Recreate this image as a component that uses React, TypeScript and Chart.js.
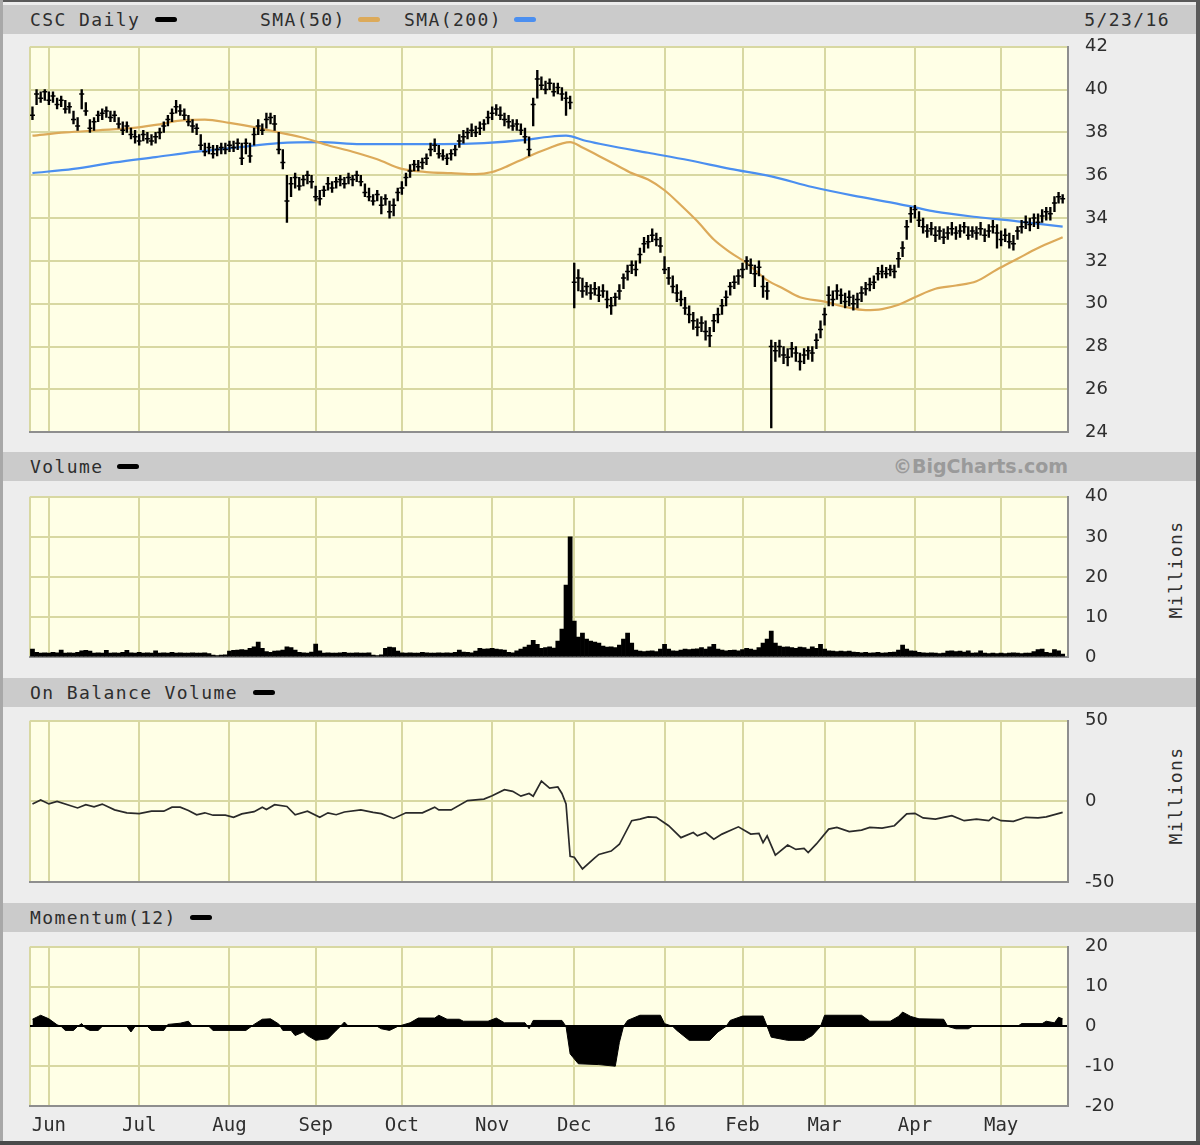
import React, { useEffect, useRef } from 'react';
import { Chart, registerables } from 'chart.js';

Chart.register(...registerables);

// ---------- tick labels / categories ----------
const monthLabels = ['Jun', 'Jul', 'Aug', 'Sep', 'Oct', 'Nov', 'Dec', '16', 'Feb', 'Mar', 'Apr', 'May'];
const monthStartIdx = [4, 26, 48, 69, 90, 112, 132, 154, 173, 193, 215, 236];

// ---------- daily price bars (trading day index 0 = 5/26/15 ... 251 = 5/23/16) ----------
const closes = [
  38.8, 39.8, 39.6, 39.9, 39.5, 39.7, 39.3, 39.5, 39.1, 39.2,
  38.6, 38.3, 39.8, 39.0, 38.2, 38.5, 38.8, 38.9, 39.0, 38.7,
  38.8, 38.4, 38.1, 38.3, 37.9, 37.8, 37.6, 37.9, 37.7, 37.6,
  37.8, 38.0, 38.3, 38.6, 38.9, 39.2, 39.0, 38.8, 38.5, 38.3,
  38.2, 37.4, 37.1, 37.3, 37.0, 37.2, 37.3, 37.2, 37.4, 37.3,
  37.5, 36.8, 37.5, 36.9, 37.9, 38.3, 38.1, 38.6, 38.7, 38.4,
  37.2, 36.6, 34.8, 35.6, 35.9, 35.5, 35.8, 36.0, 35.7, 35.0,
  34.9, 35.3, 35.6, 35.4, 35.7, 35.8, 35.6, 35.9, 35.8, 36.0,
  35.7, 35.2, 35.0, 34.8, 35.1, 34.6, 34.9, 34.3, 34.6, 35.2,
  35.4, 35.9, 36.2, 36.5, 36.4, 36.6, 36.8, 37.2, 37.4, 37.0,
  36.9, 36.8, 37.0, 37.2, 37.6, 37.8, 38.0, 38.1, 38.0, 38.2,
  38.4, 38.7, 38.9, 39.1, 38.8, 38.6, 38.5, 38.3, 38.4, 38.1,
  37.8, 37.2, 39.3, 40.5, 40.2, 40.0, 40.3, 39.9, 40.1, 39.8,
  39.6, 39.4, 31.0, 31.2, 30.6, 30.8, 30.5, 30.7, 30.4, 30.6,
  30.2, 29.9, 30.3, 30.6, 31.2, 31.5, 31.8, 31.6, 32.3, 32.8,
  32.9, 33.2, 33.0, 32.7, 31.6, 31.2, 30.8, 30.5, 30.2, 29.8,
  29.5, 29.2, 28.9, 29.1, 28.7, 28.5, 29.2, 29.5, 29.9, 30.3,
  30.8, 31.0, 31.3, 31.6, 32.0, 31.8, 31.4, 31.7, 30.8, 30.6,
  28.0, 27.8, 28.0, 27.6, 27.5, 27.9, 27.7, 27.3, 27.6, 27.8,
  27.7, 28.3, 28.8, 29.5, 30.4, 30.2, 30.6, 30.4, 30.1, 30.3,
  30.0, 30.2, 30.5, 30.7, 30.9, 31.0, 31.4, 31.5, 31.4, 31.6,
  31.5, 32.1, 32.6, 33.6, 34.2, 34.4, 33.9, 33.6, 33.4, 33.5,
  33.2, 33.4, 33.1, 33.3, 33.5, 33.3, 33.4, 33.6, 33.2, 33.4,
  33.3, 33.5, 33.2, 33.4, 33.6, 33.3, 33.0, 33.2, 32.9, 32.8,
  33.4, 33.6, 33.8, 33.7, 34.0, 33.8, 34.1, 34.3, 34.2, 34.7,
  35.0, 34.9,
];
const highs = [
  39.2, 40.0, 39.9, 40.0, 39.9, 39.9, 39.6, 39.7, 39.5, 39.4,
  39.0, 38.7, 40.0, 39.4, 38.6, 38.7, 39.0, 39.1, 39.2, 39.0,
  39.0, 38.7, 38.5, 38.5, 38.2, 38.1, 37.9, 38.1, 38.0, 37.9,
  38.0, 38.2, 38.5, 38.8, 39.1, 39.5, 39.3, 39.1, 38.8, 38.6,
  38.4, 37.9, 37.5, 37.5, 37.4, 37.4, 37.5, 37.5, 37.6, 37.6,
  37.7, 37.5, 37.7, 37.5, 38.2, 38.6, 38.4, 38.9, 38.9, 38.8,
  38.0, 37.2, 36.0, 35.9, 36.1, 35.9, 36.0, 36.2, 36.0, 35.5,
  35.3, 35.5, 35.9, 35.7, 35.9, 36.0, 35.9, 36.1, 36.0, 36.2,
  36.0, 35.6, 35.4, 35.1, 35.3, 35.0, 35.1, 34.8, 34.9, 35.4,
  35.7, 36.1, 36.5, 36.7, 36.7, 36.8, 37.0, 37.5, 37.7, 37.4,
  37.2, 37.0, 37.2, 37.4, 37.9, 38.1, 38.2, 38.4, 38.3, 38.5,
  38.6, 39.0, 39.2, 39.3, 39.2, 38.9, 38.8, 38.6, 38.6, 38.4,
  38.2, 37.8, 39.6, 40.9, 40.6, 40.4, 40.5, 40.3, 40.3, 40.1,
  39.9, 39.7, 31.9, 31.6, 31.2, 31.0, 30.9, 31.0, 30.8, 30.9,
  30.6, 30.3, 30.5, 30.9, 31.4, 31.8, 32.0, 32.0, 32.6, 33.1,
  33.2, 33.5, 33.3, 33.1, 32.2, 31.7, 31.3, 30.9, 30.6, 30.3,
  29.9, 29.6, 29.3, 29.4, 29.2, 28.9, 29.5, 29.8, 30.2, 30.6,
  31.0, 31.3, 31.6, 31.9, 32.2, 32.1, 31.8, 32.0, 31.3, 31.0,
  28.3, 28.2, 28.3, 28.0, 27.9, 28.2, 28.0, 27.7, 27.9, 28.0,
  28.0, 28.6, 29.2, 29.8, 30.8, 30.6, 30.9, 30.7, 30.5, 30.6,
  30.4, 30.5, 30.8, 31.0, 31.2, 31.3, 31.7, 31.8, 31.7, 31.8,
  31.8, 32.4, 32.9, 33.9, 34.5, 34.6, 34.3, 34.0, 33.7, 33.8,
  33.6, 33.6, 33.5, 33.6, 33.8, 33.6, 33.7, 33.8, 33.6, 33.6,
  33.6, 33.8, 33.5, 33.7, 33.9, 33.7, 33.4, 33.5, 33.3, 33.2,
  33.6, 33.9, 34.1, 34.0, 34.2, 34.2, 34.4, 34.5, 34.5, 35.0,
  35.2, 35.1,
];
const lows = [
  38.6, 39.3, 39.4, 39.5, 39.3, 39.4, 39.1, 39.2, 38.9, 38.9,
  38.4, 38.1, 39.1, 38.8, 38.0, 38.1, 38.5, 38.6, 38.7, 38.5,
  38.5, 38.2, 37.9, 38.0, 37.7, 37.5, 37.4, 37.6, 37.5, 37.4,
  37.5, 37.7, 38.0, 38.3, 38.5, 38.9, 38.8, 38.6, 38.3, 38.0,
  37.9, 37.2, 36.9, 37.0, 36.8, 36.9, 37.0, 37.0, 37.1, 37.1,
  37.2, 36.5, 37.0, 36.6, 37.4, 37.9, 37.9, 38.2, 38.4, 38.1,
  37.0, 36.3, 33.8, 35.0, 35.4, 35.3, 35.5, 35.6, 35.4, 34.8,
  34.6, 35.0, 35.3, 35.2, 35.4, 35.5, 35.4, 35.6, 35.5, 35.7,
  35.5, 35.0, 34.8, 34.6, 34.8, 34.2, 34.6, 34.0, 34.1, 34.8,
  35.1, 35.5, 35.9, 36.2, 36.2, 36.3, 36.5, 36.9, 37.1, 36.8,
  36.7, 36.5, 36.7, 36.9, 37.3, 37.5, 37.7, 37.8, 37.8, 37.9,
  38.1, 38.4, 38.6, 38.8, 38.6, 38.3, 38.2, 38.1, 38.1, 37.9,
  37.5, 36.9, 38.3, 39.6, 40.0, 39.8, 40.0, 39.7, 39.8, 39.5,
  38.8, 39.1, 29.8, 30.6, 30.3, 30.4, 30.2, 30.4, 30.1, 30.3,
  29.8, 29.5, 29.9, 30.2, 30.7, 31.1, 31.4, 31.3, 31.9, 32.4,
  32.6, 32.9, 32.7, 32.4, 31.4, 30.9, 30.5, 30.1, 29.9, 29.5,
  29.1, 28.8, 28.5, 28.7, 28.3, 28.0, 28.7, 29.1, 29.5, 29.9,
  30.4, 30.7, 30.9, 31.2, 31.6, 31.4, 30.8, 31.3, 30.3, 30.2,
  24.2, 27.3, 27.5, 27.2, 27.1, 27.5, 27.3, 26.9, 27.2, 27.4,
  27.3, 27.9, 28.4, 29.0, 29.9, 29.9, 30.2, 30.0, 29.8, 29.9,
  29.7, 29.8, 30.1, 30.4, 30.6, 30.7, 31.1, 31.2, 31.2, 31.3,
  31.2, 31.7, 32.2, 33.0, 33.8, 34.0, 33.6, 33.3, 33.1, 33.2,
  32.9, 33.0, 32.8, 33.0, 33.2, 33.0, 33.1, 33.3, 33.0, 33.1,
  33.0, 33.2, 32.9, 33.1, 33.3, 32.6, 32.7, 32.9, 32.6, 32.5,
  33.0, 33.3, 33.5, 33.4, 33.6, 33.5, 33.8, 33.9, 33.9, 34.3,
  34.7, 34.7,
];

// ---------- moving averages (sampled trading days) ----------
const sma50Days = [0, 8, 16, 24, 30, 36, 42, 48, 54, 60, 66, 72, 78, 84, 90, 96, 102, 108, 112, 116, 120, 125, 131, 134, 138, 142, 146, 150, 154, 158, 162, 166, 170, 174, 179, 183, 187, 193, 198, 203, 207, 211, 215, 220, 225, 230, 235, 240, 245, 251];
const sma50 = [37.85, 38.0, 38.1, 38.2, 38.35, 38.55, 38.6, 38.45, 38.25, 38.0, 37.75, 37.4, 37.1, 36.75, 36.3, 36.15, 36.1, 36.05, 36.15, 36.45, 36.8, 37.2, 37.55, 37.3, 36.9, 36.5, 36.1, 35.8, 35.3, 34.6, 33.85, 33.0, 32.4, 31.9, 31.1, 30.7, 30.3, 30.1, 29.85, 29.7, 29.75, 29.95, 30.3, 30.7, 30.85, 31.05, 31.6, 32.1, 32.6, 33.1];
const sma200Days = [0, 10, 20, 30, 40, 50, 60, 70, 80, 90, 100, 110, 120, 126, 130, 135, 140, 150, 160, 170, 180, 190, 200, 210, 215, 220, 230, 240, 251];
const sma200 = [36.1, 36.3, 36.6, 36.85, 37.1, 37.3, 37.5, 37.55, 37.45, 37.45, 37.45, 37.5, 37.65, 37.8, 37.85, 37.6, 37.4, 37.05, 36.7, 36.3, 35.95, 35.45, 35.05, 34.7, 34.5, 34.3, 34.05, 33.85, 33.6];

// ---------- volume (millions, daily) ----------
const volumes = [
  2.0, 1.2, 1.0, 1.1, 1.0, 1.2, 1.1, 1.8, 1.0, 1.1,
  1.0, 1.2, 1.6, 1.7, 1.5, 1.0, 1.1, 1.0, 1.7, 1.0,
  1.1, 1.0, 1.2, 1.7, 1.1, 1.0, 1.2, 1.0, 1.1, 1.0,
  1.6, 1.0, 1.1, 1.0, 1.2, 1.0, 1.1, 1.0, 1.0, 1.1,
  1.0, 1.0, 1.1, 0.9, 0.5, 0.4, 0.5, 0.6, 1.5, 1.7,
  1.8, 1.9, 1.8, 2.2, 2.6, 3.8, 2.2, 1.4, 1.2, 1.5,
  1.6, 1.8, 2.6, 2.4, 1.8, 1.2, 1.1, 1.0, 1.3, 3.3,
  1.6, 1.0, 1.1, 1.0, 1.0, 1.1, 1.2, 1.0, 1.0, 1.1,
  1.0, 1.0, 1.1, 0.5, 0.4, 0.6, 2.2, 2.5, 2.4, 1.5,
  1.1, 1.0, 1.1, 1.0, 1.0, 1.2, 1.1, 1.0, 1.0, 1.1,
  1.0, 1.1, 1.0, 1.2, 1.8, 1.3, 1.2, 1.1, 1.5, 2.2,
  2.0, 2.1, 2.2, 2.0, 1.9, 1.8, 1.2, 1.1, 1.6, 2.0,
  2.5, 3.0, 4.2, 3.2, 2.2, 2.4, 2.6, 2.3, 4.0, 7.0,
  18.0, 30.0, 9.0, 5.0, 6.0, 4.5, 4.0, 3.8, 3.5, 2.8,
  2.5, 2.6, 2.4, 3.0, 4.5, 6.0, 3.5, 1.8, 1.5, 1.4,
  1.5, 1.6, 1.4, 2.0, 3.2, 2.0, 1.6, 1.5, 1.8, 2.0,
  1.9, 2.0, 2.1, 2.4, 2.0, 2.6, 3.2, 2.0, 1.8, 1.6,
  1.7, 1.8, 1.6, 1.9, 2.2, 2.0, 1.8, 2.4, 3.5, 4.5,
  6.5, 3.5, 2.8, 2.5, 2.6, 2.4, 2.2, 2.5, 2.4, 2.0,
  2.6, 2.2, 3.2, 2.0, 1.6, 1.5, 1.4, 1.5, 1.4, 1.5,
  1.3, 1.2, 1.1, 1.2, 1.0, 1.1, 1.2, 1.0, 1.1, 1.2,
  1.3, 1.8, 3.0, 2.0, 1.6, 1.5, 1.2, 1.1, 1.0, 1.1,
  1.0, 0.9, 1.0, 1.5, 1.6, 1.4, 1.5, 1.3, 1.6, 1.0,
  1.1, 1.6, 1.0, 0.9, 1.0, 0.9, 1.0, 0.9, 1.0, 1.1,
  1.0, 0.9, 1.0, 1.0, 1.4, 1.9, 2.0, 1.2, 1.0, 1.9,
  1.6, 0.8,
];

// ---------- on balance volume (millions, sampled trading days) ----------
const obvDays = [0, 2, 4, 6, 11, 13, 15, 17, 20, 23, 26, 29, 32, 34, 36, 38, 40, 42, 44, 47, 49, 51, 54, 56, 57, 59, 62, 64, 67, 70, 72, 74, 76, 80, 83, 85, 88, 91, 95, 98, 99, 102, 106, 110, 112, 115, 117, 119, 121, 122, 124, 126, 128, 129, 130, 131, 132, 134, 137, 138, 141, 143, 146, 148, 150, 152, 155, 158, 161, 162, 164, 166, 168, 172, 175, 177, 178, 179, 181, 184, 186, 188, 189, 191, 194, 196, 199, 202, 204, 207, 210, 213, 215, 217, 220, 222, 224, 227, 230, 233, 234, 236, 239, 242, 245, 247, 251];
const obv = [-1.5, 1, -1.5, 0, -4, -2, -3.3, -1.6, -5.2, -7, -7.5, -6, -6, -3.5, -3.5, -5.6, -8.2, -7, -8.5, -8.5, -9.8, -7.7, -6.3, -3.5, -5, -2, -3.1, -8.2, -6, -9.8, -7, -8.2, -6.5, -5.2, -6.7, -7.5, -10.5, -7, -7, -3.5, -5.2, -5.2, 0.6, 1.5, 3.6, 7.3, 6.3, 3.3, 5, 3.3, 12.7, 8.3, 9, 5, -1.5, -34, -34.5, -41.8, -35, -32.8, -30.7, -26.5, -11.9, -10.9, -9.5, -9.8, -15, -22.4, -19.2, -21.3, -19.2, -23.4, -20.2, -15.7, -20.2, -19.8, -25.5, -21.3, -33.2, -27, -29.7, -29, -31.6, -26.3, -17.1, -16, -18.6, -17.7, -16, -16.5, -15, -7.7, -7.3, -10.2, -10.9, -9.8, -8.8, -11.9, -10.9, -11.9, -9.8, -11.9, -12.3, -9.8, -10.2, -9.5, -6.7];

// ---------- momentum(12) (sampled trading days) ----------
const momDays = [0, 2, 4, 6, 7, 8, 10, 11, 12, 13, 14, 16, 17, 23, 24, 25, 28, 29, 32, 33, 36, 38, 39, 43, 44, 52, 54, 56, 58, 60, 61, 63, 64, 66, 67, 69, 72, 74, 75, 76, 77, 84, 85, 87, 89, 92, 94, 98, 99, 101, 104, 105, 111, 113, 115, 120, 121, 122, 129, 130, 131, 133, 138, 142, 143, 144, 145, 148, 153, 154, 156, 157, 160, 165, 167, 169, 170, 173, 178, 179, 180, 184, 188, 190, 192, 193, 202, 204, 209, 211, 212, 214, 216, 222, 223, 225, 228, 229, 240, 241, 246, 247, 249, 250, 251];
const momentum = [1.8, 2.8, 1.9, 0.4, 0, -1, -1, 0, 0.7, -0.5, -1, -1, 0, 0, -1.4, 0, 0, -1, -1, 0.5, 0.8, 1.3, 0, 0, -1, -1, 0.5, 1.8, 1.9, 0.6, -1, -1, -2.3, -1.4, -2.3, -3.5, -3.1, -1, 0, 1.1, 0, 0, -0.6, -1, 0, 0.9, 2.1, 2.1, 2.8, 1.8, 1.8, 1.3, 1.3, 2.1, 0.9, 0.9, -0.6, 1.5, 1.5, 0, -6.9, -9.4, -9.6, -10, -4, 0, 1.5, 2.8, 2.8, 0.7, 0, -1, -3.5, -3.5, -1.4, 0, 1.5, 2.6, 2.6, 0, -2.7, -3.5, -3.5, -2.3, 0, 2.8, 2.8, 1.3, 1.3, 2.5, 3.6, 2.5, 1.9, 1.8, 0, -0.6, -0.6, 0, 0, 0.7, 0.7, 1.3, 0.9, 2.3, 1.9];

// ---------- styling ----------
const PAGE_BG = '#ededed';
const HEADER_BG = '#cbcbcb';
const PLOT_BG = '#ffffe6';
const GRID = '#d8d8a2';
const FRAME = '#8e8e8e';
const TEXT = '#2e2e2e';
const SMA50_COLOR = '#dcaa5a';
const SMA200_COLOR = '#4b8ff0';
const MONO = '"DejaVu Sans Mono", monospace';
const SANS = '"DejaVu Sans", sans-serif';
const X_MIN = -0.6;
const X_MAX = 252.3;
const CANVAS_LEFT = 20;
const CANVAS_W = 1140;
const Y_AXIS_W = 92;

const days = closes.map((_, i) => i);
const pairs = (xs: number[], ys: number[]) => xs.map((x, k) => ({ x, y: ys[k] }));

const plotBg = {
  id: 'plotBg',
  beforeDraw(chart: any) {
    const { ctx, chartArea: a } = chart;
    ctx.save();
    ctx.fillStyle = PLOT_BG;
    ctx.fillRect(a.left, a.top, a.right - a.left, a.bottom - a.top);
    ctx.restore();
  },
};

function xAxis(showLabels: boolean) {
  return {
    type: 'linear',
    min: X_MIN,
    max: X_MAX,
    offset: false,
    afterBuildTicks: (s: any) => {
      s.ticks = [X_MIN, ...monthStartIdx].map((v) => ({ value: v }));
    },
    afterFit: (s: any) => {
      s.height = showLabels ? 31 : 0;
    },
    grid: { color: GRID, lineWidth: 2, drawTicks: false, offset: false },
    border: { display: true, color: FRAME, width: 2 },
    ticks: {
      display: showLabels,
      autoSkip: false,
      maxRotation: 0,
      minRotation: 0,
      padding: 9,
      color: TEXT,
      font: { family: MONO, size: 19 },
      callback: (v: number) => {
        const k = monthStartIdx.indexOf(v);
        return k >= 0 ? monthLabels[k] : '';
      },
    },
  };
}

function yAxis(min: number, max: number, step: number, gridColor: (v: number) => string) {
  return {
    type: 'linear',
    position: 'right',
    min,
    max,
    afterFit: (s: any) => {
      s.width = Y_AXIS_W;
    },
    grid: {
      lineWidth: 2,
      drawTicks: false,
      color: (ctx: any) => gridColor(ctx.tick ? ctx.tick.value : NaN),
    },
    border: { display: true, color: FRAME, width: 2 },
    ticks: { stepSize: step, padding: 17, color: TEXT, font: { family: SANS, size: 18 } },
  };
}

function baseOptions(y: any, showX: boolean, padBottom: number) {
  return {
    responsive: false,
    animation: false,
    devicePixelRatio: 1,
    events: [],
    layout: { padding: { top: 15, left: 10, right: 0, bottom: padBottom } },
    plugins: { legend: { display: false }, tooltip: { enabled: false } },
    scales: { x: xAxis(showX), y },
  };
}

function priceConfig() {
  return {
    type: 'bar',
    data: {
      datasets: [
        {
          type: 'bar',
          data: days.map((i) => ({ x: i, y: [lows[i], highs[i]] })),
          backgroundColor: '#000',
          borderWidth: 0,
          barThickness: 1.7,
          grouped: false,
          order: 1,
        },
        {
          type: 'line',
          data: days.map((i) => ({ x: i, y: closes[i] })),
          showLine: false,
          pointStyle: 'line',
          pointRadius: 2.5,
          pointBorderWidth: 1.5,
          pointBorderColor: '#000',
          pointBackgroundColor: '#000',
          order: 0,
        },
        {
          type: 'line',
          data: pairs(sma50Days, sma50),
          borderColor: SMA50_COLOR,
          borderWidth: 2.2,
          pointRadius: 0,
          cubicInterpolationMode: 'monotone',
          order: 2,
        },
        {
          type: 'line',
          data: pairs(sma200Days, sma200),
          borderColor: SMA200_COLOR,
          borderWidth: 2.2,
          pointRadius: 0,
          cubicInterpolationMode: 'monotone',
          order: 3,
        },
      ],
    },
    options: baseOptions(yAxis(24, 42, 2, (v) => (v === 24 ? 'rgba(0,0,0,0)' : GRID)), false, 15),
    plugins: [plotBg],
  };
}

function volumeConfig() {
  return {
    type: 'bar',
    data: {
      datasets: [
        {
          data: days.map((i) => ({ x: i, y: volumes[i] })),
          backgroundColor: '#000',
          borderWidth: 0,
          barPercentage: 1,
          categoryPercentage: 1,
        },
      ],
    },
    options: baseOptions(yAxis(0, 40, 10, (v) => (v === 0 ? 'rgba(0,0,0,0)' : GRID)), false, 15),
    plugins: [plotBg],
  };
}

function obvConfig() {
  return {
    type: 'line',
    data: {
      datasets: [
        {
          data: pairs(obvDays, obv),
          borderColor: '#2a2a2a',
          borderWidth: 1.7,
          pointRadius: 0,
          tension: 0,
        },
      ],
    },
    options: baseOptions(yAxis(-50, 50, 50, (v) => (v === -50 ? 'rgba(0,0,0,0)' : GRID)), false, 15),
    plugins: [plotBg],
  };
}

function momentumConfig() {
  return {
    type: 'line',
    data: {
      datasets: [
        {
          data: pairs(momDays, momentum),
          borderColor: '#000',
          backgroundColor: '#000',
          borderWidth: 1,
          pointRadius: 0,
          tension: 0,
          fill: 'origin',
        },
      ],
    },
    options: baseOptions(
      yAxis(-20, 20, 10, (v) => (v === -20 ? 'rgba(0,0,0,0)' : v === 0 ? '#000' : GRID)),
      true,
      4
    ),
    plugins: [plotBg],
  };
}

function ChartPanel({ top, height, build }: { top: number; height: number; build: () => any }) {
  const ref = useRef<HTMLCanvasElement | null>(null);
  useEffect(() => {
    const chart = new Chart(ref.current as HTMLCanvasElement, build());
    return () => chart.destroy();
  }, []);
  return (
    <canvas
      ref={ref}
      width={CANVAS_W}
      height={height}
      style={{ position: 'absolute', left: CANVAS_LEFT, top, width: CANVAS_W, height }}
    />
  );
}

const textBase: React.CSSProperties = {
  position: 'absolute',
  fontFamily: MONO,
  fontSize: 18,
  letterSpacing: '1.4px',
  color: TEXT,
  whiteSpace: 'nowrap',
  lineHeight: '29px',
  height: 29,
};

function HeaderBar({ top }: { top: number }) {
  return <div style={{ position: 'absolute', left: 3, top, width: 1193, height: 29, background: HEADER_BG }} />;
}

function Label({ left, right, top, text, style }: any) {
  return <div style={{ ...textBase, left, right, top, ...(style || {}) }}>{text}</div>;
}

function Swatch({ left, top, color }: { left: number; top: number; color: string }) {
  return (
    <div
      style={{ position: 'absolute', left, top: top + 12, width: 22, height: 5, borderRadius: 3, background: color }}
    />
  );
}

function Millions({ cy }: { cy: number }) {
  return (
    <div
      style={{
        ...textBase,
        left: 1175 - 60,
        top: cy - 14.5,
        width: 120,
        textAlign: 'center',
        transform: 'rotate(-90deg)',
      }}
    >
      Millions
    </div>
  );
}

export default function App() {
  const H1 = 5;
  const H2 = 452;
  const H3 = 678;
  const H4 = 903;
  return (
    <div
      style={{
        position: 'absolute',
        left: 0,
        top: 0,
        width: 1200,
        height: 1145,
        background: PAGE_BG,
        overflow: 'hidden',
      }}
    >
      {/* frame */}
      <div style={{ position: 'absolute', left: 0, top: 0, width: 1200, height: 2, background: '#5a5a5a' }} />
      <div style={{ position: 'absolute', left: 0, top: 0, width: 3, height: 1145, background: '#a8a8a8' }} />
      <div style={{ position: 'absolute', left: 1196, top: 0, width: 4, height: 1145, background: '#5a5a5a' }} />
      <div style={{ position: 'absolute', left: 0, top: 1141, width: 1200, height: 4, background: '#4a4a4a' }} />

      <HeaderBar top={H1} />
      <HeaderBar top={H2} />
      <HeaderBar top={H3} />
      <HeaderBar top={H4} />

      <Label left={30} top={H1} text="CSC Daily" />
      <Swatch left={155} top={H1} color="#000" />
      <Label left={260} top={H1} text="SMA(50)" />
      <Swatch left={358} top={H1} color={SMA50_COLOR} />
      <Label left={404} top={H1} text="SMA(200)" />
      <Swatch left={514} top={H1} color={SMA200_COLOR} />
      <Label right={30} top={H1} text="5/23/16" />

      <Label left={30} top={H2} text="Volume" />
      <Swatch left={117} top={H2} color="#000" />
      <Label
        right={132}
        top={H2}
        text="©BigCharts.com"
        style={{ fontFamily: SANS, fontWeight: 'bold', fontSize: 19, letterSpacing: '0px', color: '#9a9a9a' }}
      />

      <Label left={30} top={H3} text="On Balance Volume" />
      <Swatch left={253} top={H3} color="#000" />

      <Label left={30} top={H4} text="Momentum(12)" />
      <Swatch left={190} top={H4} color="#000" />

      <Millions cy={569} />
      <Millions cy={795} />

      <ChartPanel top={19} height={441} build={priceConfig} />
      <ChartPanel top={469} height={216} build={volumeConfig} />
      <ChartPanel top={693} height={217} build={obvConfig} />
      <ChartPanel top={919} height={222} build={momentumConfig} />
    </div>
  );
}
